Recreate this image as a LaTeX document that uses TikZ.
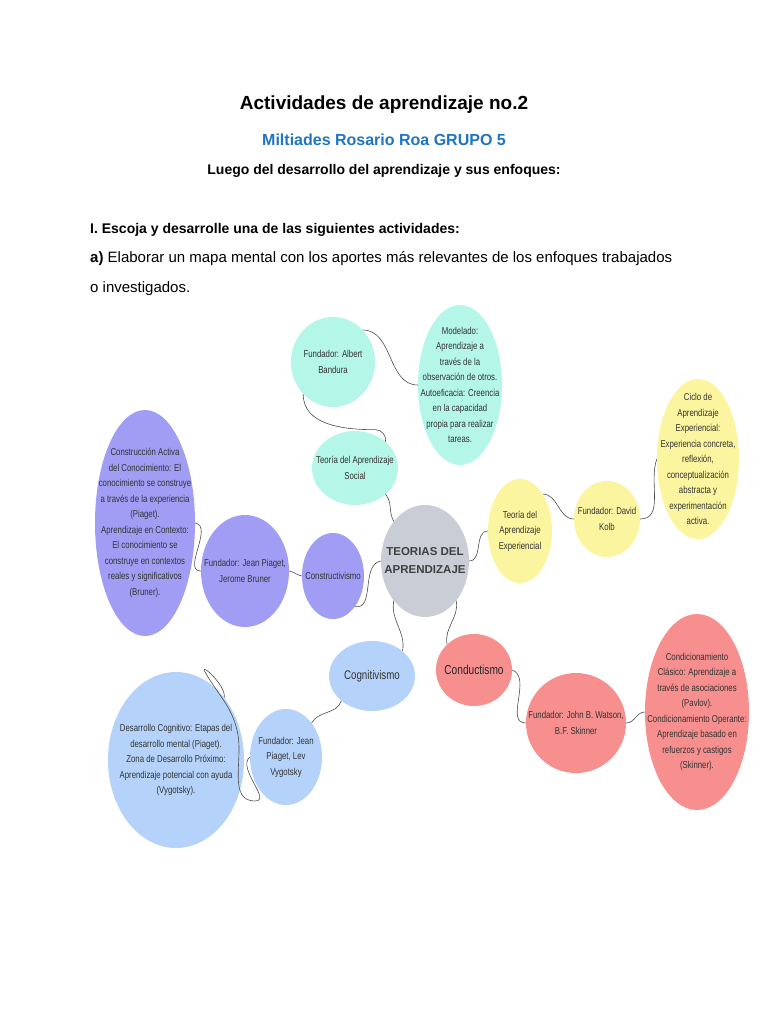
\documentclass[tikz,border=0pt]{standalone}
\usepackage{fontspec}
\setmainfont{Liberation Sans}
\newfontfamily\nar[FakeStretch=0.78]{Liberation Sans}
\usetikzlibrary{shapes.geometric}
\definecolor{teal}{HTML}{B4F6E8}
\definecolor{purp}{HTML}{A19DF4}
\definecolor{gry}{HTML}{C9CDD5}
\definecolor{yel}{HTML}{FCF5A0}
\definecolor{redc}{HTML}{F78F8F}
\definecolor{blu}{HTML}{B5D3FA}
\definecolor{ttl}{HTML}{1F74C4}
\definecolor{txt}{HTML}{333333}
\tikzset{
 bub/.style={ellipse,inner sep=0pt},
 btxt/.style={align=center,font=\nar\fontsize{10}{15.5}\selectfont,text=txt},
 link/.style={draw=black!70,line width=0.6pt},
}
\begin{document}
\begin{tikzpicture}[x=1pt,y=-1pt]
\useasboundingbox (0,0) rectangle (768,1024);
\node (t1) at (384,105) {\fontsize{19}{22}\selectfont\bfseries Actividades de aprendizaje no.2};
\node[text=ttl] (t2) at (384,140) {\fontsize{16}{19}\selectfont\bfseries Miltiades Rosario Roa GRUPO 5};
\node (t3) at (384,171) {\fontsize{14}{17}\selectfont\bfseries Luego del desarrollo del aprendizaje y sus enfoques:};
\node[anchor=west,inner sep=0] (t4) at (90,230) {\fontsize{14}{17}\selectfont\bfseries I. Escoja y desarrolle una de las siguientes actividades:};
\node[anchor=west,inner sep=0] (t5) at (90,259) {\fontsize{15}{17}\selectfont\textbf{a)} Elaborar un mapa mental con los aportes más relevantes de los enfoques trabajados};
\node[anchor=west,inner sep=0] (t6) at (90,289) {\fontsize{15}{17}\selectfont o investigados.};

% connectors (behind bubbles' text)
\coordinate (lp) at (205,672);
\coordinate (bd) at (255,801);
\coordinate (mid) at (238,735);

% bubbles
\node[bub,fill=teal,minimum width=84,minimum height=90] (band) at (333,362) {};
\node[bub,fill=teal,minimum width=84,minimum height=160] (mod) at (460,385) {};
\node[bub,fill=teal,minimum width=86,minimum height=74] (soc) at (355,468) {};
\node[bub,fill=gry,minimum width=88,minimum height=112] (cen) at (425,561) {};
\node[bub,fill=purp,minimum width=62,minimum height=86] (cons) at (333,576) {};
\node[bub,fill=purp,minimum width=88,minimum height=112] (pb) at (245,571) {};
\node[bub,fill=purp,minimum width=100,minimum height=226] (cac) at (145,523) {};
\node[bub,fill=yel,minimum width=64,minimum height=104] (tae) at (520,531) {};
\node[bub,fill=yel,minimum width=66,minimum height=76] (kolb) at (607,519) {};
\node[bub,fill=yel,minimum width=82,minimum height=160] (cic) at (698,459) {};
\node[bub,fill=redc,minimum width=76,minimum height=72] (cond) at (474,670) {};
\node[bub,fill=redc,minimum width=100,minimum height=100] (wat) at (576,723) {};
\node[bub,fill=redc,minimum width=104,minimum height=196] (cc) at (697,712) {};
\node[bub,fill=blu,minimum width=86,minimum height=70] (cog) at (372,676) {};
\node[bub,fill=blu,minimum width=72,minimum height=96] (pl) at (286,757) {};
\node[bub,fill=blu,minimum width=136,minimum height=176] (dc) at (176,760) {};

\draw[link] (cen.north west) to[out=120,in=-50] (soc.south east);
\draw[link] (soc.north east) to[out=80,in=0] ++(-10,-12) coordinate (c1) to[out=180,in=-90] (band.south west);
\draw[link] (band.north east) to[out=0,in=180] (mod.west);
\draw[link] (cen.west) to[out=190,in=-10] (cons.south east);
\draw[link] (cons.west) to[out=170,in=-10] (pb.east);
\draw[link] (pb.west) to[out=180,in=-10] (cac.east);
\draw[link] (cen.east) to[out=0,in=180] (tae.west);
\draw[link] (tae.north east) to[out=0,in=180] (kolb.west);
\draw[link] (kolb.east) to[out=0,in=250] (cic.west);
\draw[link] (cen.south east) to[out=-80,in=100] (cond.north west);
\draw[link] (cond.east) to[out=-20,in=180] (wat.west);
\draw[link] (wat.east) to[out=0,in=180] (cc.west);
\draw[link] (cen.south west) to[out=-100,in=80] (cog.north east);
\draw[link] (cog.south west) to[out=-110,in=60] (pl.north east);
\draw[link] (pl.west) to[out=220,in=0] (bd) to[out=180,in=-80] (mid) to[out=100,in=-60] (lp) to[out=120,in=80] (dc.north east);

% texts
\node[btxt] at (band) {Fundador: Albert\\Bandura};
\node[btxt] at (mod) {Modelado:\\Aprendizaje a\\través de la\\observación de otros.\\Autoeficacia: Creencia\\en la capacidad\\propia para realizar\\tareas.};
\node[btxt] at (soc) {Teoría del Aprendizaje\\Social};
\node[align=center,font=\bfseries\fontsize{11.5}{18}\selectfont,text=black!75] at (cen) {TEORIAS DEL\\APRENDIZAJE};
\node[btxt] at (cons) {Constructivismo};
\node[btxt] at (pb) {Fundador: Jean Piaget,\\Jerome Bruner};
\node[btxt] at (cac) {Construcción Activa\\del Conocimiento: El\\conocimiento se construye\\a través de la experiencia\\(Piaget).\\Aprendizaje en Contexto:\\El conocimiento se\\construye en contextos\\reales y significativos\\(Bruner).};
\node[btxt] at (tae) {Teoría del\\Aprendizaje\\Experiencial};
\node[btxt] at (kolb) {Fundador: David\\Kolb};
\node[btxt] at (cic) {Ciclo de\\Aprendizaje\\Experiencial:\\Experiencia concreta,\\reflexión,\\conceptualización\\abstracta y\\experimentación\\activa.};
\node[btxt,font=\nar\fontsize{13}{15}\selectfont,text=black!85] at (cond) {Conductismo};
\node[btxt] at (wat) {Fundador: John B. Watson,\\B.F. Skinner};
\node[btxt] at (cc) {Condicionamiento\\Clásico: Aprendizaje a\\través de asociaciones\\(Pavlov).\\Condicionamiento Operante:\\Aprendizaje basado en\\refuerzos y castigos\\(Skinner).};
\node[btxt,font=\nar\fontsize{12.5}{15}\selectfont] at (cog) {Cognitivismo};
\node[btxt] at (pl) {Fundador: Jean\\Piaget, Lev\\Vygotsky};
\node[btxt] at (dc) {Desarrollo Cognitivo: Etapas del\\desarrollo mental (Piaget).\\Zona de Desarrollo Próximo:\\Aprendizaje potencial con ayuda\\(Vygotsky).};
\end{tikzpicture}
\end{document}
